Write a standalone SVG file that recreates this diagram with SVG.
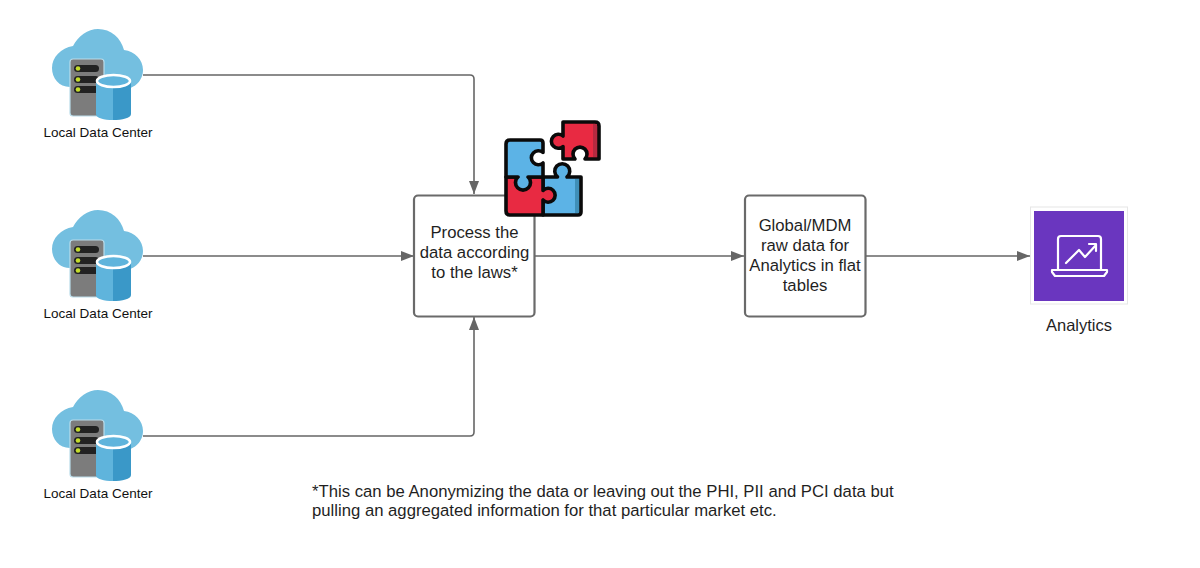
<svg xmlns="http://www.w3.org/2000/svg" width="1200" height="568" viewBox="0 0 1200 568">
<style>
text{font-family:"Liberation Sans",Arial,sans-serif;fill:#1f1f1f}
.box{fill:#fff;stroke:#6a6a6a;stroke-width:2.2}
.conn{fill:none;stroke:#666;stroke-width:1.6}
.lbl{font-size:13.500px;text-anchor:middle;fill:#111}
.t{font-size:16.700px;text-anchor:middle}
.p{stroke:#0a0a0a;stroke-width:3.600;stroke-linejoin:round}
.w{fill:none;stroke:#fff;stroke-width:2.200;stroke-linecap:round;stroke-linejoin:round}
</style>
<defs>
<marker id="arr" markerUnits="userSpaceOnUse" markerWidth="14" markerHeight="12" refX="13" refY="5" orient="auto"><path d="M0 0L13 5L0 10Z" fill="#666"/></marker>
<symbol id="dc" width="100" height="100" viewBox="0 0 100 100" overflow="visible">
<path d="M18 57C7 57 0 48 0 38C0 27 9 18 21 16C26 6 36-1 46-1C59-1 69 8 72 20C83 21 91 30 91 40C91 50 83 59 72 59Z" fill="#74bfe0"/>
<rect x="18" y="29" width="34" height="57" rx="3" fill="#7c7c7c" stroke="#b9dcea" stroke-width="1.200"/>
<rect x="22" y="35" width="25" height="7" rx="3.500" fill="#222"/><rect x="22" y="46" width="25" height="7" rx="3.500" fill="#222"/><rect x="22" y="56" width="25" height="7" rx="3.500" fill="#222"/>
<circle cx="26" cy="38.500" r="2.300" fill="#c4dc2c"/><circle cx="26" cy="49.500" r="2.300" fill="#c4dc2c"/><circle cx="26" cy="59.500" r="2.300" fill="#c4dc2c"/>
<path d="M44 51V84C44 88 52 90 61 90V51Z" fill="#5fb4dc"/>
<path d="M61 51H79V84C79 88 70 90 61 90Z" fill="#3a98c8"/>
<ellipse cx="61.500" cy="51" rx="16.500" ry="6" fill="#5fb4dc" stroke="#fff" stroke-width="2.600"/>
</symbol>
</defs>
<rect width="1200" height="568" fill="#fff"/>
<g id="connectors">
<path class="conn" d="M143 75H470Q474 75 474 79V194" marker-end="url(#arr)"/>
<path class="conn" d="M143 256H414" marker-end="url(#arr)"/>
<path class="conn" d="M143 436H470Q474 436 474 432V317" marker-end="url(#arr)"/>
<path class="conn" d="M534 256H744" marker-end="url(#arr)"/>
<path class="conn" d="M866 256H1030" marker-end="url(#arr)"/>
</g>
<g id="dc1"><use href="#dc" x="52" y="30"/><text class="lbl" x="98" y="137">Local Data Center</text></g>
<g id="dc2"><use href="#dc" x="52" y="211"/><text class="lbl" x="98" y="318">Local Data Center</text></g>
<g id="dc3"><use href="#dc" x="52" y="391"/><text class="lbl" x="98" y="498">Local Data Center</text></g>
<g id="process"><rect class="box" x="414" y="195.500" width="120.500" height="121" rx="4"/>
<text class="t" x="474.500" y="238">Process the</text><text class="t" x="474.500" y="258">data according</text><text class="t" x="474.500" y="278">to the laws*</text></g>
<g id="puzzle">
<path class="p" fill="#5cb3e6" d="M543 177H557.500A7.500 7.500 0 1 1 567 177H581V212Q581 215 578 215H543Z"/>
<rect x="575" y="179" width="4" height="34" fill="#3f8fb8"/>
<path class="p" fill="#e82a42" d="M506 177H543V190.500A7 7 0 1 1 543 200V215H510Q506 215 506 211Z"/>
<path class="p" fill="#5cb3e6" d="M510 140H540Q543 140 543 143V152.500A7 7 0 1 0 543 163V177H528A7.500 7.500 0 1 1 518 177H506V144Q506 140 510 140Z"/>
<path class="p" fill="#e82a42" d="M563 122H595Q599 122 599 126V159H585A7 7 0 1 0 575 159H563V146.500A7 7 0 1 1 563 136Z"/>
<rect x="593" y="124" width="4" height="33" fill="#b52a40"/>
</g>
<g id="mdm"><rect class="box" x="745" y="195.500" width="120.500" height="121" rx="4"/>
<text class="t" x="805" y="231">Global/MDM</text><text class="t" x="805" y="251">raw data for</text><text class="t" x="805" y="271">Analytics in flat</text><text class="t" x="805" y="291">tables</text></g>
<g id="analytics">
<rect x="1030.500" y="207" width="97" height="97" fill="#fff" stroke="#e6e6e6" stroke-width="1"/>
<rect x="1034" y="211" width="90" height="90" fill="#6a36bf"/>
<path class="w" d="M1058 270V239Q1058 236 1061 236H1098Q1101 236 1101 239V270"/>
<path class="w" d="M1052 270H1107V272L1104 276H1055L1052 272Z"/>
<path class="w" d="M1066 263L1079 250L1085 257L1096 245M1089 244H1096V251"/>
<text x="1079" y="331" font-size="16.500" text-anchor="middle" fill="#333">Analytics</text></g>
<g id="note"><text x="312" y="497" font-size="16.700">*This can be Anonymizing the data or leaving out the PHI, PII and PCI data but</text>
<text x="312" y="516" font-size="16.700">pulling an aggregated information for that particular market etc.</text></g>
</svg>
